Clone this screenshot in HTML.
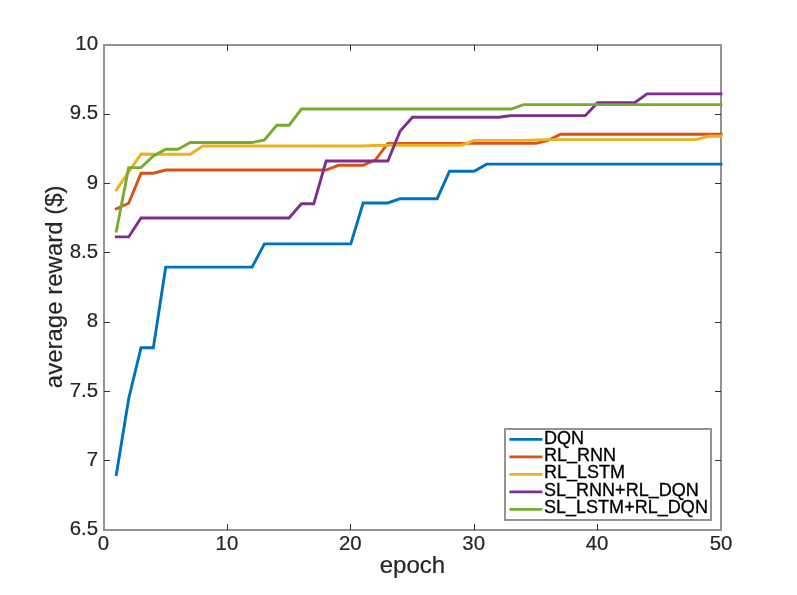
<!DOCTYPE html>
<html lang="en">
<head>
<meta charset="utf-8">
<title>average reward vs epoch</title>
<style>
html,body{margin:0;padding:0;background:#fff;}
body{width:797px;height:595px;overflow:hidden;}
svg{display:block;}
svg text{font-family:"Liberation Sans",Arial,Helvetica,sans-serif;fill:#262626;stroke:#262626;stroke-width:0.2px;}
svg .leg text{stroke-width:0.3px;fill:#000;stroke:#000;}
.tick{font-size:20.4px;}
.lab{font-size:24.0px;}
.leg{font-size:18.06px;}
</style>
</head>
<body>
<svg width="797" height="595" viewBox="0 0 797 595">
<rect x="0" y="0" width="797" height="595" fill="#ffffff"/>
<g shape-rendering="crispEdges" fill="#939393">
<rect x="103" y="44" width="619" height="2"/>
<rect x="103" y="529" width="619" height="2"/>
<rect x="103" y="44" width="2" height="487"/>
<rect x="720" y="44" width="2" height="487"/>
</g>
<g shape-rendering="crispEdges" fill="#333333">
<rect x="227" y="524" width="1" height="6"/><rect x="227" y="45" width="1" height="6"/>
<rect x="350" y="524" width="1" height="6"/><rect x="350" y="45" width="1" height="6"/>
<rect x="474" y="524" width="1" height="6"/><rect x="474" y="45" width="1" height="6"/>
<rect x="597" y="524" width="1" height="6"/><rect x="597" y="45" width="1" height="6"/>
<rect x="104" y="460" width="6" height="1"/><rect x="715" y="460" width="6" height="1"/>
<rect x="104" y="391" width="6" height="1"/><rect x="715" y="391" width="6" height="1"/>
<rect x="104" y="322" width="6" height="1"/><rect x="715" y="322" width="6" height="1"/>
<rect x="104" y="252" width="6" height="1"/><rect x="715" y="252" width="6" height="1"/>
<rect x="104" y="183" width="6" height="1"/><rect x="715" y="183" width="6" height="1"/>
<rect x="104" y="114" width="6" height="1"/><rect x="715" y="114" width="6" height="1"/>
</g>
<g class="tick" text-anchor="middle">
<text x="103.50" y="550.00">0</text>
<text x="226.90" y="550.00">10</text>
<text x="350.30" y="550.00">20</text>
<text x="473.70" y="550.00">30</text>
<text x="597.10" y="550.00">40</text>
<text x="721.00" y="550.00">50</text>
</g>
<g class="tick" text-anchor="end">
<text x="98.00" y="535.25">6.5</text>
<text x="98.00" y="465.96">7</text>
<text x="98.00" y="396.68">7.5</text>
<text x="98.00" y="327.39">8</text>
<text x="98.00" y="258.11">8.5</text>
<text x="98.00" y="188.82">9</text>
<text x="98.00" y="119.04">9.5</text>
<text x="98.00" y="50.25">10</text>
</g>
<text class="lab" text-anchor="middle" x="412.40" y="572.90">epoch</text>
<text class="lab" text-anchor="middle" transform="translate(62.20 286.80) rotate(-90)">average reward ($)</text>
<g fill="none" stroke-width="2.9" stroke-linejoin="miter" stroke-linecap="square">
<polyline stroke="#0072BD" points="116.34,474.57 128.68,398.77 141.02,347.78 153.36,347.78 165.70,267.13 178.04,267.13 190.38,267.13 202.72,267.13 215.06,267.13 227.40,267.13 239.74,267.13 252.08,267.13 264.42,243.85 276.76,243.85 289.10,243.85 301.44,243.85 313.78,243.85 326.12,243.85 338.46,243.85 350.80,243.85 363.14,202.97 375.48,202.97 387.82,202.97 400.16,198.68 412.50,198.68 424.84,198.68 437.18,198.68 449.52,171.24 461.86,171.24 474.20,171.24 486.54,164.17 498.88,164.17 511.22,164.17 523.56,164.17 535.90,164.17 548.24,164.17 560.58,164.17 572.92,164.17 585.26,164.17 597.60,164.17 609.94,164.17 622.28,164.17 634.62,164.17 646.96,164.17 659.30,164.17 671.64,164.17 683.98,164.17 696.32,164.17 708.66,164.17 721.00,164.17"/>
<polyline stroke="#D95319" points="116.34,208.93 128.68,203.25 141.02,173.18 153.36,173.18 165.70,169.99 178.04,169.99 190.38,169.99 202.72,169.99 215.06,169.99 227.40,169.99 239.74,169.99 252.08,169.99 264.42,169.99 276.76,169.99 289.10,169.99 301.44,169.99 313.78,169.99 326.12,169.99 338.46,165.28 350.80,165.28 363.14,165.28 375.48,159.79 387.82,143.39 400.16,143.39 412.50,143.39 424.84,143.39 437.18,143.39 449.52,143.39 461.86,143.39 474.20,143.39 486.54,143.39 498.88,143.39 511.22,143.39 523.56,143.39 535.90,143.39 548.24,140.34 560.58,134.24 572.92,134.24 585.26,134.24 597.60,134.24 609.94,134.24 622.28,134.24 634.62,134.24 646.96,134.24 659.30,134.24 671.64,134.24 683.98,134.24 696.32,134.24 708.66,134.24 721.00,134.24"/>
<polyline stroke="#EDB120" points="116.34,189.95 128.68,171.93 141.02,154.06 153.36,154.19 165.70,154.19 178.04,154.19 190.38,154.19 202.72,146.02 215.06,146.02 227.40,146.02 239.74,146.02 252.08,146.02 264.42,146.02 276.76,146.02 289.10,146.02 301.44,146.02 313.78,146.02 326.12,146.02 338.46,146.02 350.80,146.02 363.14,146.02 375.48,145.46 387.82,145.19 400.16,145.19 412.50,145.19 424.84,145.19 437.18,145.19 449.52,145.19 461.86,145.19 474.20,140.34 486.54,140.34 498.88,140.34 511.22,140.34 523.56,140.34 535.90,140.06 548.24,139.64 560.58,139.64 572.92,139.64 585.26,139.64 597.60,139.64 609.94,139.64 622.28,139.64 634.62,139.64 646.96,139.64 659.30,139.64 671.64,139.64 683.98,139.64 696.32,139.64 708.66,136.32 721.00,136.32"/>
<polyline stroke="#7E2F8E" points="116.34,236.92 128.68,236.92 141.02,217.94 153.36,217.94 165.70,217.94 178.04,217.94 190.38,217.94 202.72,217.94 215.06,217.94 227.40,217.94 239.74,217.94 252.08,217.94 264.42,217.94 276.76,217.94 289.10,217.94 301.44,203.80 313.78,203.80 326.12,160.98 338.46,160.98 350.80,160.98 363.14,160.98 375.48,160.98 387.82,160.98 400.16,130.91 412.50,117.20 424.84,117.20 437.18,117.20 449.52,117.20 461.86,117.20 474.20,117.20 486.54,117.20 498.88,117.20 511.22,115.67 523.56,115.67 535.90,115.67 548.24,115.67 560.58,115.67 572.92,115.67 585.26,115.67 597.60,102.70 609.94,102.70 622.28,102.70 634.62,102.70 646.96,93.92 659.30,93.92 671.64,93.92 683.98,93.92 696.32,93.92 708.66,93.92 721.00,93.92"/>
<polyline stroke="#77AC30" points="116.34,231.10 128.68,167.64 141.02,167.64 153.36,155.86 165.70,149.21 178.04,149.21 190.38,142.55 202.72,142.55 215.06,142.55 227.40,142.55 239.74,142.55 252.08,142.55 264.42,139.92 276.76,125.23 289.10,125.23 301.44,109.02 313.78,109.02 326.12,109.02 338.46,109.02 350.80,109.02 363.14,109.02 375.48,109.02 387.82,109.02 400.16,109.02 412.50,109.02 424.84,109.02 437.18,109.02 449.52,109.02 461.86,109.02 474.20,109.02 486.54,109.02 498.88,109.02 511.22,109.02 523.56,104.59 535.90,104.59 548.24,104.59 560.58,104.59 572.92,104.59 585.26,104.59 597.60,104.59 609.94,104.59 622.28,104.59 634.62,104.59 646.96,104.59 659.30,104.59 671.64,104.59 683.98,104.59 696.32,104.59 708.66,104.59 721.00,104.59"/>
</g>
<g shape-rendering="crispEdges">
<rect x="505" y="429" width="206" height="91" fill="#ffffff" stroke="#939393" stroke-width="2"/>
</g>
<g stroke-width="2.9" fill="none">
<line x1="509.4" x2="542.4" y1="439.40" y2="439.40" stroke="#0072BD"/>
<line x1="509.4" x2="542.4" y1="456.90" y2="456.90" stroke="#D95319"/>
<line x1="509.4" x2="542.4" y1="474.40" y2="474.40" stroke="#EDB120"/>
<line x1="509.4" x2="542.4" y1="491.90" y2="491.90" stroke="#7E2F8E"/>
<line x1="509.4" x2="542.4" y1="509.40" y2="509.40" stroke="#77AC30"/>
</g>
<g class="leg">
<text x="543.90" y="443.80">DQN</text>
<text x="543.90" y="460.70">RL<tspan dy="-1.3">_</tspan><tspan dy="1.3">RNN</tspan></text>
<text x="543.90" y="478.00">RL<tspan dy="-1.3">_</tspan><tspan dy="1.3">LSTM</tspan></text>
<text x="543.90" y="495.70">SL<tspan dy="-1.3">_</tspan><tspan dy="1.3">RNN+RL</tspan><tspan dy="-1.3">_</tspan><tspan dy="1.3">DQN</tspan></text>
<text x="543.90" y="513.00">SL<tspan dy="-1.3">_</tspan><tspan dy="1.3">LSTM+RL</tspan><tspan dy="-1.3">_</tspan><tspan dy="1.3">DQN</tspan></text>
</g>
</svg>
</body>
</html>
